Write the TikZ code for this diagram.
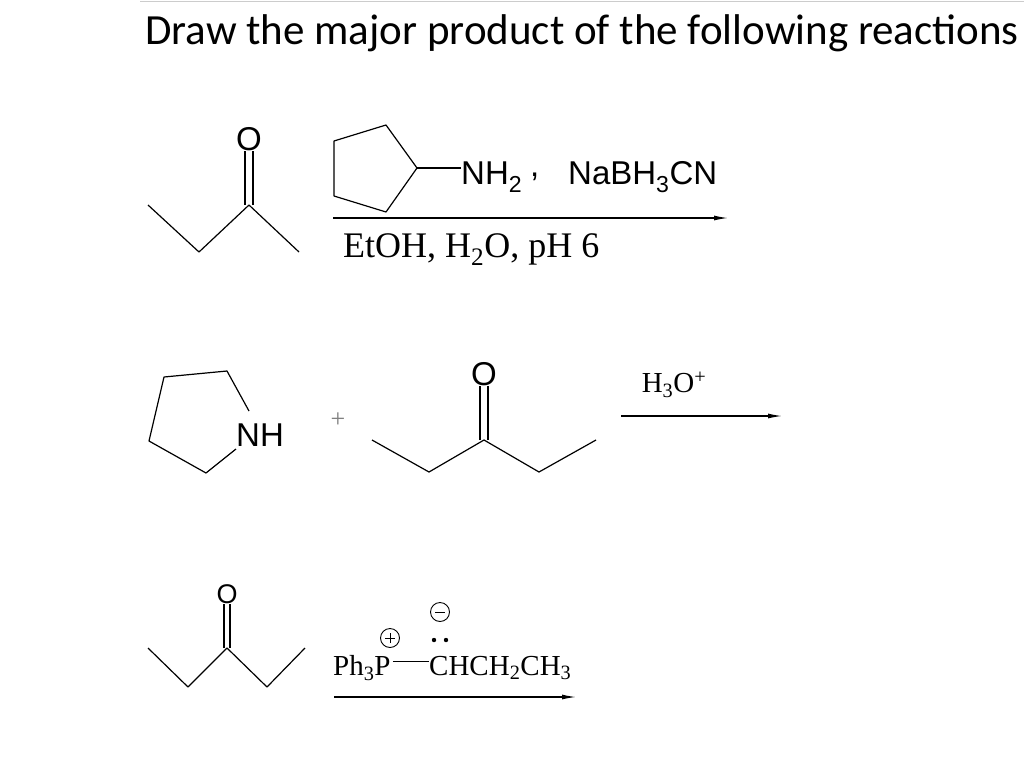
\documentclass[tikz,border=0pt]{standalone}
\usepackage{fontspec}
\setmainfont{Liberation Serif}
\newfontfamily\titlefont{Carlito}
\newfontfamily\arialf{Liberation Sans}
\usetikzlibrary{arrows.meta}
\begin{document}
\begin{tikzpicture}[x=1pt,y=-1pt,
  bond/.style={line width=1.2pt,line join=round},
  rxn/.style={line width=1.2pt,-{Latex[length=14pt,width=5pt]}},
  sanslbl/.style={inner sep=0pt,font=\arialf\fontsize{33}{36}\selectfont},
  seriflbl/.style={inner sep=0pt,font=\fontsize{36}{40}\selectfont},
  smallserif/.style={inner sep=0pt,font=\fontsize{29}{32}\selectfont},
  charge/.style={circle,draw,line width=0.9pt,inner sep=0pt,minimum size=19pt}]
\useasboundingbox (0,0) rectangle (1024,771);
\fill[white] (0,0) rectangle (1024,771);
\draw[gray!40,line width=1pt] (140,1) -- (1024,1);
\node[anchor=base west,inner sep=0pt,font=\titlefont\fontsize{43}{46}\selectfont] (title) at (145,44) {Draw the major product of the following reactions};
% reaction 1
\coordinate (a1) at (148,205); \coordinate (a2) at (199,252); \coordinate (a3) at (249,205); \coordinate (a4) at (299,252);
\node[sanslbl] (o1) at (249,139) {O};
\draw[bond] (a1) -- (a2) -- (a3) -- (a4);
\draw[bond] ([xshift=-4pt]a3) -- ([xshift=-4pt]o1.south);
\draw[bond] ([xshift=4pt]a3) -- ([xshift=4pt]o1.south);
\coordinate (p1) at (334,141); \coordinate (p2) at (386,125); \coordinate (p3) at (417,168); \coordinate (p4) at (386,212); \coordinate (p5) at (334,196);
\draw[bond] (p1) -- (p2) -- (p3) -- (p4) -- (p5) -- cycle;
\node[sanslbl,anchor=west] (nh2) at (461,177) {NH\textsubscript{2}};
\draw[bond] (p3) -- (nh2.west |- p3);
\node[sanslbl,anchor=west] (comma) at (530,177) {,};
\node[sanslbl,anchor=west] (nabh) at (568,177) {NaBH\textsubscript{3}CN};
\coordinate (r1s) at (333,218); \coordinate (r1e) at (728,218);
\draw[rxn] (r1s) -- (r1e);
\node[seriflbl,anchor=west] (cond1) at (343,250) {EtOH, H\textsubscript{2}O, pH 6};
% reaction 2
\coordinate (q1) at (227,371); \coordinate (q2) at (164,377); \coordinate (q3) at (149,441); \coordinate (q4) at (206,473); \coordinate (q5) at (236,449);
\node[sanslbl,anchor=west] (nh) at (236,435) {NH};
\draw[bond] (q5) -- (q4) -- (q3) -- (q2) -- (q1) -- (249,411);
\node[inner sep=0pt,text=gray,font=\fontsize{26}{28}\selectfont] (plus) at (338,420) {+};
\coordinate (b1) at (372,440); \coordinate (b2) at (429,472); \coordinate (b3) at (484,440); \coordinate (b4) at (539,472); \coordinate (b5) at (596,440);
\node[sanslbl] (o2) at (484,374) {O};
\draw[bond] (b1) -- (b2) -- (b3) -- (b4) -- (b5);
\draw[bond] ([xshift=-4pt]b3) -- ([xshift=-4pt]o2.south);
\draw[bond] ([xshift=4pt]b3) -- ([xshift=4pt]o2.south);
\node[smallserif] (h3o) at (674,385) {H\textsubscript{3}O\textsuperscript{+}};
\coordinate (r2s) at (621,416); \coordinate (r2e) at (782,416);
\draw[rxn] (r2s) -- (r2e);
% reaction 3
\coordinate (c1) at (148,648); \coordinate (c2) at (188,687); \coordinate (c3) at (227,648); \coordinate (c4) at (267,687); \coordinate (c5) at (305,648);
\node[inner sep=0pt,font=\arialf\fontsize{27}{30}\selectfont] (o3) at (227,594) {O};
\draw[bond] (c1) -- (c2) -- (c3) -- (c4) -- (c5);
\draw[bond] ([xshift=-3pt]c3) -- ([xshift=-3pt]o3.south);
\draw[bond] ([xshift=3pt]c3) -- ([xshift=3pt]o3.south);
\node[smallserif,anchor=west] (ph3p) at (333,668) {Ph\textsubscript{3}P};
\node[smallserif,anchor=west] (chr) at (429,668) {CHCH\textsubscript{2}CH\textsubscript{3}};
\draw[line width=1pt] (ph3p.east |- 0,661) ++(2,0) -- (chr.west |- 0,661);
\node[charge] (pos) at (390,638) {};
\draw[line width=0.9pt] ([xshift=-5pt]pos.center) -- ([xshift=5pt]pos.center) ([yshift=-5pt]pos.center) -- ([yshift=5pt]pos.center);
\node[charge] (neg) at (440,612) {};
\draw[line width=0.9pt] ([xshift=-5pt]neg.center) -- ([xshift=5pt]neg.center);
\fill (434,640) circle (2.2pt) (446,640) circle (2.2pt);
\coordinate (r3s) at (334,697); \coordinate (r3e) at (576,697);
\draw[rxn] (r3s) -- (r3e);
\end{tikzpicture}
\end{document}
